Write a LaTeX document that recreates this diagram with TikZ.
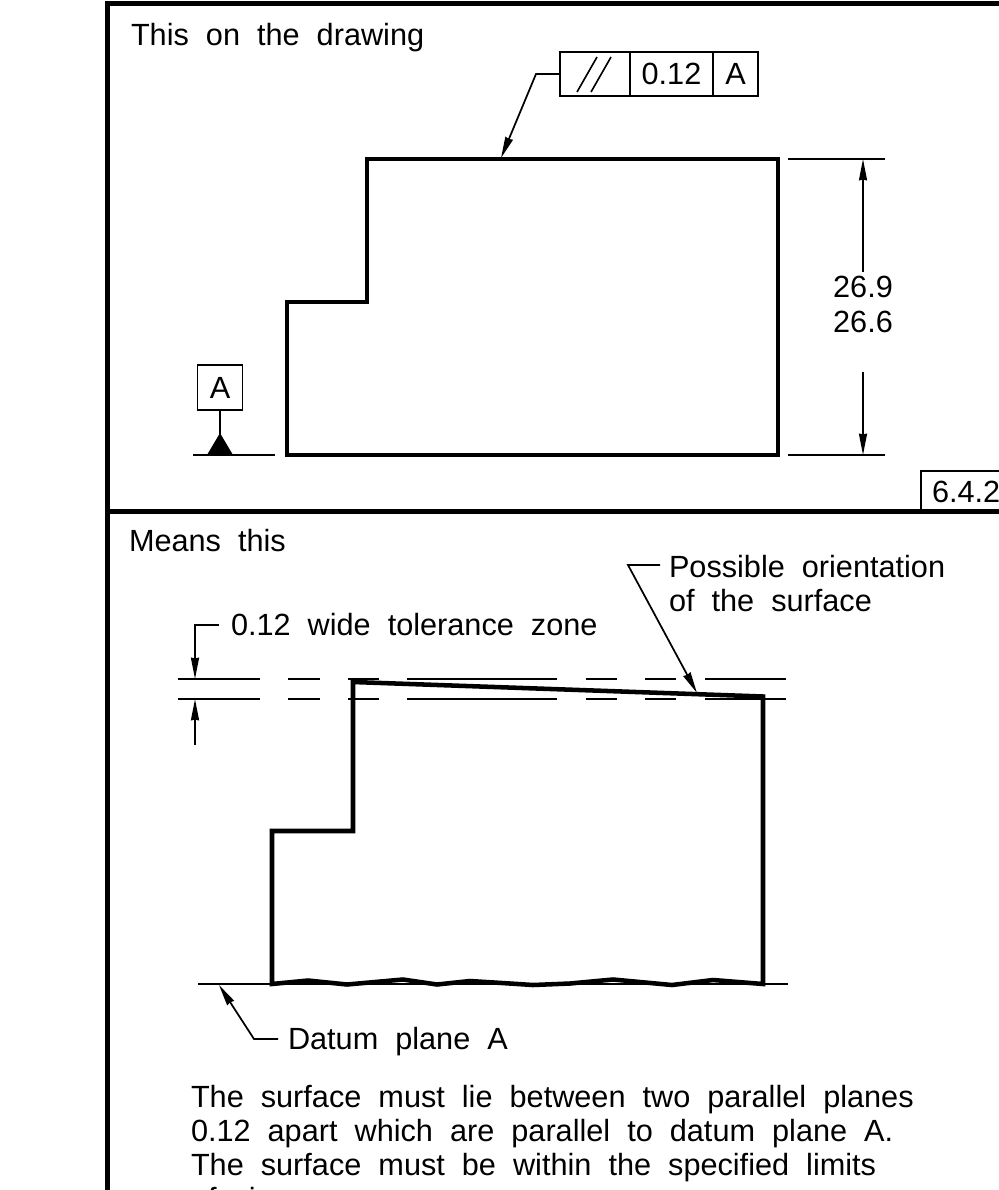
\documentclass[tikz,border=0pt]{standalone}
\usepackage{fontspec}
\setmainfont{Liberation Sans}[WordSpace=2.0]
\usetikzlibrary{arrows.meta}
\newcommand{\lblfont}{\fontsize{23pt}{26pt}\selectfont}
\tikzset{
  heavy/.style={line width=3.4pt,line join=miter},
  thin line/.style={line width=1.3pt},
  leader/.style={line width=1.3pt,-{Stealth[length=16pt,width=6pt,inset=0.6pt]}},
  frame/.style={line width=3.4pt},
  lbl/.style={anchor=base west,inner sep=0pt,outer sep=0pt,font=\lblfont},
  cell/.style={draw,line width=1.1pt,inner sep=0pt,anchor=center,font=\lblfont,minimum height=33pt},
}
\begin{document}
\begin{tikzpicture}[x=0.75pt,y=-0.75pt]
\useasboundingbox (0,0) rectangle (999,1190);
\clip (0,0) rectangle (999,1190);
% frame
\draw[frame] (107.5,1190) -- (107.5,3.5) -- (999,3.5);
\draw[frame] (107.5,511.5) -- (999,511.5);
% top part
\node[lbl] (t1) at (131,45.5) {This on the drawing};
\draw[heavy] (367,159) -- (778,159) -- (778,455) -- (287,455) -- (287,302) -- (367,302) -- cycle;
\node[cell,minimum width=52.5pt] (f1) at (595,74) {};
\node[cell,minimum width=62.25pt] (f2) at (671.5,74) {0.12};
\node[cell,minimum width=33.75pt] (f3) at (735.5,74) {A};
\draw[line width=1.2pt] (577,92) -- (597,57) (591,92) -- (611,57);
\coordinate (k1) at (536,74);
\coordinate (s1) at (501,158);
\draw[leader] (f1.west) -- (k1) -- (s1);
% dimension
\coordinate (e1a) at (788,159); \coordinate (e1b) at (885,159);
\coordinate (e2a) at (788,455); \coordinate (e2b) at (885,455);
\draw[thin line] (e1a) -- (e1b) (e2a) -- (e2b);
\node[lbl,anchor=base] (d1) at (863,297.5) {26.9};
\node[lbl,anchor=base] (d2) at (863,332.5) {26.6};
\coordinate (m1) at (863,272); \coordinate (m2) at (863,372);
\coordinate (t1e) at (863,159); \coordinate (t2e) at (863,455);
\draw[leader] (m1) -- (t1e);
\draw[leader] (m2) -- (t2e);
% datum feature
\node[cell,minimum width=34pt,minimum height=34pt] (dA) at (220,387.5) {A};
\coordinate (dB) at (220,455);
\draw[thin line] (dA.south) -- (dB);
\fill (207,455) -- (233,455) -- (220,433) -- cycle;
\draw[thin line] (193,455) -- (275,455);
% ref
\draw[line width=1.1pt] (921,511) -- (921,471) -- (999,471);
\node[lbl] (r) at (932,502) {6.4.2};
% lower part
\node[lbl] (t2) at (129,551) {Means this};
\node[lbl] (p1) at (669,577.5) {Possible orientation};
\node[lbl] (p2) at (669,611.5) {of the surface};
\node[lbl] (z) at (231,635.5) {0.12 wide tolerance zone};
\foreach \y in {679,699}{
  \foreach \a/\b in {178/260,288/320,348/379,407/557,586/617,645/676,705/786}
    \draw[thin line] (\a,\y) -- (\b,\y);
}
\coordinate (zk) at (195,625);
\coordinate (zs) at (219,625);
\coordinate (zt) at (195,679);
\coordinate (zb) at (195,745);
\coordinate (zu) at (195,699);
\draw[leader] (zs) -- (zk) -- (zt);
\draw[leader] (zb) -- (zu);
\draw[heavy] (353,682) -- (763,696.5) -- (763,984) -- (713,980) -- (672,985) -- (613,979.5) -- (570,983.5) -- (533,985) -- (510,983.5) -- (470,981) -- (437,984.5) -- (403,979.5) -- (347,984.5) -- (308,980.5) -- (272,984) -- (272,831) -- (353,831) -- cycle;
\draw[thin line] (198,984) -- (788,984);
\coordinate (ps) at (660,565);
\coordinate (pk) at (628,565);
\coordinate (pt) at (697,693);
\draw[leader] (ps) -- (pk) -- (pt);
\node[lbl] (dp) at (288,1049) {Datum plane A};
\coordinate (ds) at (278,1039);
\coordinate (dk) at (254,1039);
\coordinate (dt) at (219,985);
\draw[leader] (ds) -- (dk) -- (dt);
\node[lbl] (l1) at (191,1107) {The surface must lie between two parallel planes};
\node[lbl] (l2) at (191,1141) {0.12 apart which are parallel to datum plane A.};
\node[lbl] (l3) at (191,1175) {The surface must be within the specified limits};
\node[lbl] (l4) at (191,1209) {of size};
\end{tikzpicture}
\end{document}
